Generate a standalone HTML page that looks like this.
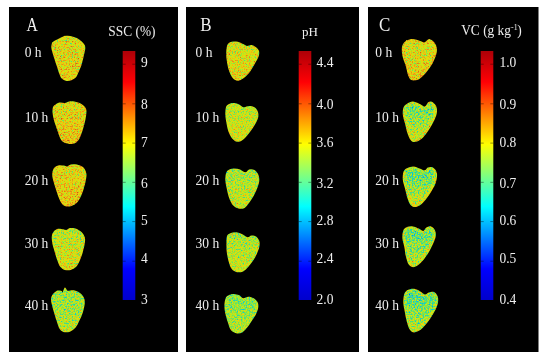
<!DOCTYPE html><html><head><meta charset="utf-8"><style>
html,body{margin:0;padding:0;background:#fff;width:550px;height:362px;overflow:hidden}
svg{display:block}
text{font-family:"Liberation Serif","Times New Roman",serif;fill:#eeeeee}
</style></head><body>
<svg width="550" height="362" viewBox="0 0 550 362"><defs>
<linearGradient id="jet" x1="0" y1="0" x2="0" y2="1"><stop offset="0.000" stop-color="rgb(173,0,7)"/><stop offset="0.025" stop-color="rgb(189,0,7)"/><stop offset="0.050" stop-color="rgb(206,0,6)"/><stop offset="0.075" stop-color="rgb(222,0,6)"/><stop offset="0.100" stop-color="rgb(238,0,5)"/><stop offset="0.125" stop-color="rgb(255,0,5)"/><stop offset="0.150" stop-color="rgb(255,25,4)"/><stop offset="0.175" stop-color="rgb(255,51,4)"/><stop offset="0.200" stop-color="rgb(255,76,3)"/><stop offset="0.225" stop-color="rgb(255,101,3)"/><stop offset="0.250" stop-color="rgb(255,127,2)"/><stop offset="0.275" stop-color="rgb(255,153,2)"/><stop offset="0.300" stop-color="rgb(255,178,1)"/><stop offset="0.325" stop-color="rgb(255,203,1)"/><stop offset="0.350" stop-color="rgb(255,229,0)"/><stop offset="0.375" stop-color="rgb(255,255,0)"/><stop offset="0.400" stop-color="rgb(229,255,25)"/><stop offset="0.425" stop-color="rgb(203,255,51)"/><stop offset="0.450" stop-color="rgb(178,255,76)"/><stop offset="0.475" stop-color="rgb(153,255,101)"/><stop offset="0.500" stop-color="rgb(127,255,127)"/><stop offset="0.525" stop-color="rgb(101,255,153)"/><stop offset="0.550" stop-color="rgb(76,255,178)"/><stop offset="0.575" stop-color="rgb(51,255,203)"/><stop offset="0.600" stop-color="rgb(25,255,229)"/><stop offset="0.625" stop-color="rgb(0,255,255)"/><stop offset="0.650" stop-color="rgb(0,229,255)"/><stop offset="0.675" stop-color="rgb(0,203,255)"/><stop offset="0.700" stop-color="rgb(0,178,255)"/><stop offset="0.725" stop-color="rgb(0,153,255)"/><stop offset="0.750" stop-color="rgb(0,127,255)"/><stop offset="0.775" stop-color="rgb(0,101,255)"/><stop offset="0.800" stop-color="rgb(0,76,255)"/><stop offset="0.825" stop-color="rgb(0,51,255)"/><stop offset="0.850" stop-color="rgb(0,25,255)"/><stop offset="0.875" stop-color="rgb(0,0,255)"/><stop offset="0.900" stop-color="rgb(0,0,244)"/><stop offset="0.925" stop-color="rgb(0,0,234)"/><stop offset="0.950" stop-color="rgb(0,0,224)"/><stop offset="0.975" stop-color="rgb(0,0,214)"/><stop offset="1.000" stop-color="rgb(0,0,204)"/></linearGradient>
<filter id="tA0" x="0" y="0" width="1" height="1" color-interpolation-filters="sRGB">
<feTurbulence type="fractalNoise" baseFrequency="0.65" numOctaves="2" seed="1"/>
<feColorMatrix type="matrix" values="1 0 0 0 0 1 0 0 0 0 1 0 0 0 0 0 0 0 0 1"/>
<feComposite in2="SourceGraphic" operator="arithmetic" k1="0" k2="0.678" k3="1" k4="-0.339"/>
<feComponentTransfer><feFuncR type="table" tableValues="0.000 0.000 0.000 0.000 0.000 0.000 0.000 0.000 0.000 0.000 0.000 0.000 0.011 0.025 0.039 0.095 0.151 0.216 0.314 0.412 0.497 0.578 0.657 0.730 0.804 0.853 0.902 0.926 0.935 0.939 0.929 0.920 0.910 0.877 0.844 0.811 0.765 0.716 0.667 0.667 0.667"/><feFuncG type="table" tableValues="0.314 0.314 0.314 0.314 0.314 0.314 0.314 0.314 0.314 0.400 0.485 0.571 0.644 0.714 0.784 0.805 0.826 0.847 0.869 0.890 0.899 0.906 0.908 0.905 0.902 0.877 0.853 0.804 0.739 0.676 0.627 0.578 0.529 0.474 0.419 0.364 0.308 0.252 0.196 0.196 0.196"/><feFuncB type="table" tableValues="0.902 0.902 0.902 0.902 0.902 0.902 0.902 0.902 0.902 0.908 0.914 0.920 0.905 0.884 0.863 0.779 0.695 0.605 0.490 0.376 0.301 0.235 0.176 0.127 0.078 0.062 0.046 0.049 0.065 0.080 0.086 0.092 0.098 0.092 0.086 0.080 0.067 0.053 0.039 0.039 0.039"/></feComponentTransfer>
<feGaussianBlur stdDeviation="0.4"/>
</filter>
<mask id="cA0" maskUnits="userSpaceOnUse" x="45.4" y="29.8" width="45.9" height="57.1"><path d="M53.4,41.4 C55.3,40.2 60.8,37.3 63.2,36.4 C65.6,35.5 66.2,35.7 67.8,35.8 C69.4,35.9 71.2,36.2 73.1,36.8 C75.0,37.4 77.4,38.2 79.2,39.4 C81.0,40.5 82.8,42.3 83.8,43.7 C84.8,45.1 85.3,45.9 85.3,47.9 C85.3,49.9 84.4,52.9 83.8,55.8 C83.2,58.6 82.4,62.2 81.5,65.0 C80.6,67.8 79.3,70.6 78.4,72.6 C77.5,74.6 77.3,75.8 76.2,77.1 C75.1,78.4 73.2,79.6 71.6,80.2 C69.9,80.8 67.9,81.2 66.3,80.9 C64.7,80.6 62.9,79.7 61.7,78.6 C60.6,77.5 60.3,76.4 59.4,74.1 C58.5,71.8 57.4,68.0 56.4,65.0 C55.4,62.0 54.2,58.6 53.4,55.8 C52.6,53.0 51.7,50.2 51.4,48.2 C51.1,46.2 51.5,44.8 51.8,43.7 C52.1,42.6 51.5,42.6 53.4,41.4Z" fill="#fff" filter="url(#rough)"/></mask>
<linearGradient id="gA0" x1="0" y1="0" x2="0" y2="1"><stop offset="0.1" stop-color="rgb(161,161,161)"/><stop offset="0.9" stop-color="rgb(171,171,171)"/></linearGradient>
<filter id="tA1" x="0" y="0" width="1" height="1" color-interpolation-filters="sRGB">
<feTurbulence type="fractalNoise" baseFrequency="0.65" numOctaves="2" seed="2"/>
<feColorMatrix type="matrix" values="1 0 0 0 0 1 0 0 0 0 1 0 0 0 0 0 0 0 0 1"/>
<feComposite in2="SourceGraphic" operator="arithmetic" k1="0" k2="0.678" k3="1" k4="-0.339"/>
<feComponentTransfer><feFuncR type="table" tableValues="0.000 0.000 0.000 0.000 0.000 0.000 0.000 0.000 0.000 0.000 0.000 0.000 0.011 0.025 0.039 0.095 0.151 0.216 0.314 0.412 0.497 0.578 0.657 0.730 0.804 0.853 0.902 0.926 0.935 0.939 0.929 0.920 0.910 0.877 0.844 0.811 0.765 0.716 0.667 0.667 0.667"/><feFuncG type="table" tableValues="0.314 0.314 0.314 0.314 0.314 0.314 0.314 0.314 0.314 0.400 0.485 0.571 0.644 0.714 0.784 0.805 0.826 0.847 0.869 0.890 0.899 0.906 0.908 0.905 0.902 0.877 0.853 0.804 0.739 0.676 0.627 0.578 0.529 0.474 0.419 0.364 0.308 0.252 0.196 0.196 0.196"/><feFuncB type="table" tableValues="0.902 0.902 0.902 0.902 0.902 0.902 0.902 0.902 0.902 0.908 0.914 0.920 0.905 0.884 0.863 0.779 0.695 0.605 0.490 0.376 0.301 0.235 0.176 0.127 0.078 0.062 0.046 0.049 0.065 0.080 0.086 0.092 0.098 0.092 0.086 0.080 0.067 0.053 0.039 0.039 0.039"/></feComponentTransfer>
<feGaussianBlur stdDeviation="0.4"/>
</filter>
<mask id="cA1" maskUnits="userSpaceOnUse" x="46.6" y="95.4" width="45.7" height="54.5"><path d="M54.1,105.6 C55.2,104.6 57.6,103.0 59.4,102.6 C61.2,102.1 63.1,103.1 64.8,102.9 C66.5,102.7 67.5,101.6 69.3,101.4 C71.1,101.2 73.2,101.3 75.4,101.8 C77.6,102.3 80.4,103.2 82.2,104.4 C84.0,105.6 85.3,107.1 86.0,108.7 C86.7,110.3 86.5,111.7 86.3,114.0 C86.1,116.3 85.5,119.5 84.8,122.4 C84.1,125.3 83.1,128.7 82.2,131.5 C81.3,134.3 80.3,137.2 79.2,139.1 C78.1,141.0 77.1,142.1 75.4,142.9 C73.8,143.7 71.3,144.0 69.3,143.9 C67.3,143.8 64.7,143.0 63.2,142.1 C61.7,141.2 61.2,140.3 60.2,138.3 C59.2,136.3 58.2,132.9 57.2,130.0 C56.2,127.1 54.9,123.6 54.1,120.8 C53.3,118.0 52.9,115.2 52.6,113.2 C52.4,111.2 52.4,110.0 52.6,108.7 C52.9,107.4 53.0,106.6 54.1,105.6Z" fill="#fff" filter="url(#rough)"/></mask>
<linearGradient id="gA1" x1="0" y1="0" x2="0" y2="1"><stop offset="0.1" stop-color="rgb(161,161,161)"/><stop offset="0.9" stop-color="rgb(178,178,178)"/></linearGradient>
<filter id="tA2" x="0" y="0" width="1" height="1" color-interpolation-filters="sRGB">
<feTurbulence type="fractalNoise" baseFrequency="0.65" numOctaves="2" seed="3"/>
<feColorMatrix type="matrix" values="1 0 0 0 0 1 0 0 0 0 1 0 0 0 0 0 0 0 0 1"/>
<feComposite in2="SourceGraphic" operator="arithmetic" k1="0" k2="0.636" k3="1" k4="-0.318"/>
<feComponentTransfer><feFuncR type="table" tableValues="0.000 0.000 0.000 0.000 0.000 0.000 0.000 0.000 0.000 0.000 0.000 0.000 0.011 0.025 0.039 0.095 0.151 0.216 0.314 0.412 0.497 0.578 0.657 0.730 0.804 0.853 0.902 0.926 0.935 0.939 0.929 0.920 0.910 0.877 0.844 0.811 0.765 0.716 0.667 0.667 0.667"/><feFuncG type="table" tableValues="0.314 0.314 0.314 0.314 0.314 0.314 0.314 0.314 0.314 0.400 0.485 0.571 0.644 0.714 0.784 0.805 0.826 0.847 0.869 0.890 0.899 0.906 0.908 0.905 0.902 0.877 0.853 0.804 0.739 0.676 0.627 0.578 0.529 0.474 0.419 0.364 0.308 0.252 0.196 0.196 0.196"/><feFuncB type="table" tableValues="0.902 0.902 0.902 0.902 0.902 0.902 0.902 0.902 0.902 0.908 0.914 0.920 0.905 0.884 0.863 0.779 0.695 0.605 0.490 0.376 0.301 0.235 0.176 0.127 0.078 0.062 0.046 0.049 0.065 0.080 0.086 0.092 0.098 0.092 0.086 0.080 0.067 0.053 0.039 0.039 0.039"/></feComponentTransfer>
<feGaussianBlur stdDeviation="0.4"/>
</filter>
<mask id="cA2" maskUnits="userSpaceOnUse" x="46.3" y="158.4" width="46.0" height="53.9"><path d="M54.1,167.9 C55.2,166.6 57.1,165.7 58.7,165.3 C60.4,164.9 62.6,165.4 64.0,165.6 C65.4,165.8 65.9,166.6 67.0,166.4 C68.1,166.2 69.1,164.7 70.8,164.4 C72.5,164.1 74.9,164.0 76.9,164.4 C78.9,164.8 81.4,165.6 83.0,167.1 C84.6,168.6 85.8,171.2 86.3,173.2 C86.8,175.2 86.4,176.8 86.0,179.3 C85.6,181.8 84.7,185.5 83.8,188.4 C82.9,191.3 81.8,194.4 80.7,196.8 C79.6,199.2 78.4,201.3 76.9,202.8 C75.4,204.3 73.5,205.3 71.6,205.9 C69.7,206.5 67.2,206.7 65.5,206.3 C63.9,205.9 62.8,205.1 61.7,203.6 C60.6,202.1 59.7,200.0 58.7,197.5 C57.7,195.0 56.6,191.4 55.6,188.4 C54.6,185.4 53.5,181.8 52.9,179.3 C52.3,176.8 52.1,175.1 52.3,173.2 C52.5,171.3 53.0,169.2 54.1,167.9Z" fill="#fff" filter="url(#rough)"/></mask>
<linearGradient id="gA2" x1="0" y1="0" x2="0" y2="1"><stop offset="0.1" stop-color="rgb(163,163,163)"/><stop offset="0.9" stop-color="rgb(176,176,176)"/></linearGradient>
<filter id="tA3" x="0" y="0" width="1" height="1" color-interpolation-filters="sRGB">
<feTurbulence type="fractalNoise" baseFrequency="0.65" numOctaves="2" seed="4"/>
<feColorMatrix type="matrix" values="1 0 0 0 0 1 0 0 0 0 1 0 0 0 0 0 0 0 0 1"/>
<feComposite in2="SourceGraphic" operator="arithmetic" k1="0" k2="0.636" k3="1" k4="-0.318"/>
<feComponentTransfer><feFuncR type="table" tableValues="0.000 0.000 0.000 0.000 0.000 0.000 0.000 0.000 0.000 0.000 0.000 0.000 0.011 0.025 0.039 0.095 0.151 0.216 0.314 0.412 0.497 0.578 0.657 0.730 0.804 0.853 0.902 0.926 0.935 0.939 0.929 0.920 0.910 0.877 0.844 0.811 0.765 0.716 0.667 0.667 0.667"/><feFuncG type="table" tableValues="0.314 0.314 0.314 0.314 0.314 0.314 0.314 0.314 0.314 0.400 0.485 0.571 0.644 0.714 0.784 0.805 0.826 0.847 0.869 0.890 0.899 0.906 0.908 0.905 0.902 0.877 0.853 0.804 0.739 0.676 0.627 0.578 0.529 0.474 0.419 0.364 0.308 0.252 0.196 0.196 0.196"/><feFuncB type="table" tableValues="0.902 0.902 0.902 0.902 0.902 0.902 0.902 0.902 0.902 0.908 0.914 0.920 0.905 0.884 0.863 0.779 0.695 0.605 0.490 0.376 0.301 0.235 0.176 0.127 0.078 0.062 0.046 0.049 0.065 0.080 0.086 0.092 0.098 0.092 0.086 0.080 0.067 0.053 0.039 0.039 0.039"/></feComponentTransfer>
<feGaussianBlur stdDeviation="0.4"/>
</filter>
<mask id="cA3" maskUnits="userSpaceOnUse" x="45.8" y="222.1" width="45.0" height="53.8"><path d="M53.4,231.9 C54.4,230.6 56.3,229.2 57.9,228.8 C59.5,228.4 61.8,229.1 63.2,229.3 C64.6,229.5 65.2,230.1 66.3,229.9 C67.4,229.7 68.6,228.3 70.1,228.1 C71.6,227.8 73.5,227.8 75.4,228.4 C77.3,229.0 79.9,230.4 81.5,231.9 C83.1,233.4 84.2,235.3 84.8,237.2 C85.3,239.1 85.1,240.8 84.8,243.3 C84.5,245.8 83.5,249.5 82.7,252.4 C81.9,255.3 80.8,258.4 79.7,260.8 C78.6,263.2 77.7,265.3 76.2,266.8 C74.7,268.3 72.7,269.4 70.8,269.9 C68.9,270.4 66.6,270.4 64.8,269.9 C63.0,269.4 61.5,268.4 60.2,266.8 C58.9,265.2 58.2,262.6 57.2,260.0 C56.2,257.4 55.2,253.7 54.4,250.9 C53.6,248.1 52.7,245.7 52.3,243.3 C51.9,240.9 51.6,238.3 51.8,236.4 C52.0,234.5 52.4,233.2 53.4,231.9Z" fill="#fff" filter="url(#rough)"/></mask>
<linearGradient id="gA3" x1="0" y1="0" x2="0" y2="1"><stop offset="0.1" stop-color="rgb(145,145,145)"/><stop offset="0.9" stop-color="rgb(163,163,163)"/></linearGradient>
<filter id="tA4" x="0" y="0" width="1" height="1" color-interpolation-filters="sRGB">
<feTurbulence type="fractalNoise" baseFrequency="0.65" numOctaves="2" seed="5"/>
<feColorMatrix type="matrix" values="1 0 0 0 0 1 0 0 0 0 1 0 0 0 0 0 0 0 0 1"/>
<feComposite in2="SourceGraphic" operator="arithmetic" k1="0" k2="0.636" k3="1" k4="-0.318"/>
<feComponentTransfer><feFuncR type="table" tableValues="0.000 0.000 0.000 0.000 0.000 0.000 0.000 0.000 0.000 0.000 0.000 0.000 0.011 0.025 0.039 0.095 0.151 0.216 0.314 0.412 0.497 0.578 0.657 0.730 0.804 0.853 0.902 0.926 0.935 0.939 0.929 0.920 0.910 0.877 0.844 0.811 0.765 0.716 0.667 0.667 0.667"/><feFuncG type="table" tableValues="0.314 0.314 0.314 0.314 0.314 0.314 0.314 0.314 0.314 0.400 0.485 0.571 0.644 0.714 0.784 0.805 0.826 0.847 0.869 0.890 0.899 0.906 0.908 0.905 0.902 0.877 0.853 0.804 0.739 0.676 0.627 0.578 0.529 0.474 0.419 0.364 0.308 0.252 0.196 0.196 0.196"/><feFuncB type="table" tableValues="0.902 0.902 0.902 0.902 0.902 0.902 0.902 0.902 0.902 0.908 0.914 0.920 0.905 0.884 0.863 0.779 0.695 0.605 0.490 0.376 0.301 0.235 0.176 0.127 0.078 0.062 0.046 0.049 0.065 0.080 0.086 0.092 0.098 0.092 0.086 0.080 0.067 0.053 0.039 0.039 0.039"/></feComponentTransfer>
<feGaussianBlur stdDeviation="0.4"/>
</filter>
<mask id="cA4" maskUnits="userSpaceOnUse" x="45.1" y="281.6" width="45.7" height="56.3"><path d="M52.6,294.4 C53.5,293.2 55.2,291.5 56.4,290.9 C57.6,290.2 58.9,290.5 59.8,290.5 C60.7,290.5 61.1,290.7 61.6,291.0 C62.1,291.3 62.3,292.6 62.6,292.4 C62.9,292.2 63.1,290.8 63.5,290.0 C63.9,289.2 64.4,287.8 64.9,287.6 C65.4,287.4 65.8,288.5 66.3,289.0 C66.8,289.5 66.5,290.5 67.8,290.7 C69.1,290.9 71.9,289.9 73.9,290.3 C75.9,290.7 78.3,291.7 80.0,292.9 C81.7,294.1 83.0,295.8 83.8,297.4 C84.6,299.0 84.9,300.4 84.8,302.8 C84.7,305.2 83.9,308.9 83.0,311.9 C82.1,314.9 80.5,318.4 79.2,321.0 C77.9,323.6 77.1,326.0 75.4,327.8 C73.8,329.6 71.3,331.2 69.3,331.9 C67.3,332.6 64.9,332.4 63.2,331.9 C61.6,331.3 60.5,330.6 59.4,328.6 C58.3,326.7 57.4,323.2 56.4,320.2 C55.4,317.2 54.2,313.3 53.4,310.4 C52.6,307.5 51.8,304.8 51.4,302.8 C51.0,300.8 50.9,299.6 51.1,298.2 C51.3,296.8 51.7,295.6 52.6,294.4Z" fill="#fff" filter="url(#rough)"/></mask>
<linearGradient id="gA4" x1="0" y1="0" x2="0" y2="1"><stop offset="0.1" stop-color="rgb(133,133,133)"/><stop offset="0.9" stop-color="rgb(148,148,148)"/></linearGradient>
<filter id="tB0" x="0" y="0" width="1" height="1" color-interpolation-filters="sRGB">
<feTurbulence type="fractalNoise" baseFrequency="0.65" numOctaves="2" seed="6"/>
<feColorMatrix type="matrix" values="1 0 0 0 0 1 0 0 0 0 1 0 0 0 0 0 0 0 0 1"/>
<feComposite in2="SourceGraphic" operator="arithmetic" k1="0" k2="0.636" k3="1" k4="-0.318"/>
<feComponentTransfer><feFuncR type="table" tableValues="0.000 0.000 0.000 0.000 0.000 0.000 0.000 0.000 0.000 0.000 0.000 0.000 0.011 0.025 0.039 0.095 0.151 0.216 0.314 0.412 0.497 0.578 0.657 0.730 0.804 0.853 0.902 0.926 0.935 0.939 0.929 0.920 0.910 0.877 0.844 0.811 0.765 0.716 0.667 0.667 0.667"/><feFuncG type="table" tableValues="0.314 0.314 0.314 0.314 0.314 0.314 0.314 0.314 0.314 0.400 0.485 0.571 0.644 0.714 0.784 0.805 0.826 0.847 0.869 0.890 0.899 0.906 0.908 0.905 0.902 0.877 0.853 0.804 0.739 0.676 0.627 0.578 0.529 0.474 0.419 0.364 0.308 0.252 0.196 0.196 0.196"/><feFuncB type="table" tableValues="0.902 0.902 0.902 0.902 0.902 0.902 0.902 0.902 0.902 0.908 0.914 0.920 0.905 0.884 0.863 0.779 0.695 0.605 0.490 0.376 0.301 0.235 0.176 0.127 0.078 0.062 0.046 0.049 0.065 0.080 0.086 0.092 0.098 0.092 0.086 0.080 0.067 0.053 0.039 0.039 0.039"/></feComponentTransfer>
<feGaussianBlur stdDeviation="0.4"/>
</filter>
<mask id="cB0" maskUnits="userSpaceOnUse" x="220.4" y="35.8" width="44.6" height="50.8"><path d="M227.9,44.1 C228.8,42.8 230.0,42.2 231.7,41.8 C233.3,41.4 235.9,41.4 237.8,41.8 C239.7,42.2 241.6,43.4 243.1,44.1 C244.6,44.8 245.5,45.8 246.9,45.9 C248.3,46.0 249.9,44.7 251.4,44.9 C252.9,45.1 254.7,46.2 256.0,47.2 C257.3,48.2 258.6,49.5 259.0,51.0 C259.4,52.5 259.3,54.3 258.7,56.3 C258.1,58.3 256.5,60.7 255.2,63.1 C253.9,65.5 252.3,68.4 250.7,70.7 C249.1,73.0 247.3,75.2 245.4,76.8 C243.5,78.4 241.1,80.1 239.3,80.6 C237.5,81.1 236.1,80.7 234.7,79.8 C233.3,78.9 232.0,77.4 230.9,75.3 C229.8,73.2 228.7,69.8 227.9,66.9 C227.2,64.0 226.7,60.7 226.4,57.8 C226.2,54.9 226.2,51.7 226.4,49.4 C226.7,47.1 227.0,45.4 227.9,44.1Z" fill="#fff" filter="url(#rough)"/></mask>
<linearGradient id="gB0" x1="0" y1="0" x2="0" y2="1"><stop offset="0.1" stop-color="rgb(156,156,156)"/><stop offset="0.9" stop-color="rgb(168,168,168)"/></linearGradient>
<filter id="tB1" x="0" y="0" width="1" height="1" color-interpolation-filters="sRGB">
<feTurbulence type="fractalNoise" baseFrequency="0.65" numOctaves="2" seed="7"/>
<feColorMatrix type="matrix" values="1 0 0 0 0 1 0 0 0 0 1 0 0 0 0 0 0 0 0 1"/>
<feComposite in2="SourceGraphic" operator="arithmetic" k1="0" k2="0.551" k3="1" k4="-0.275"/>
<feComponentTransfer><feFuncR type="table" tableValues="0.000 0.000 0.000 0.000 0.000 0.000 0.000 0.000 0.000 0.000 0.000 0.000 0.011 0.025 0.039 0.095 0.151 0.216 0.314 0.412 0.497 0.578 0.657 0.730 0.804 0.853 0.902 0.926 0.935 0.939 0.929 0.920 0.910 0.877 0.844 0.811 0.765 0.716 0.667 0.667 0.667"/><feFuncG type="table" tableValues="0.314 0.314 0.314 0.314 0.314 0.314 0.314 0.314 0.314 0.400 0.485 0.571 0.644 0.714 0.784 0.805 0.826 0.847 0.869 0.890 0.899 0.906 0.908 0.905 0.902 0.877 0.853 0.804 0.739 0.676 0.627 0.578 0.529 0.474 0.419 0.364 0.308 0.252 0.196 0.196 0.196"/><feFuncB type="table" tableValues="0.902 0.902 0.902 0.902 0.902 0.902 0.902 0.902 0.902 0.908 0.914 0.920 0.905 0.884 0.863 0.779 0.695 0.605 0.490 0.376 0.301 0.235 0.176 0.127 0.078 0.062 0.046 0.049 0.065 0.080 0.086 0.092 0.098 0.092 0.086 0.080 0.067 0.053 0.039 0.039 0.039"/></feComponentTransfer>
<feGaussianBlur stdDeviation="0.4"/>
</filter>
<mask id="cB1" maskUnits="userSpaceOnUse" x="219.3" y="97.1" width="45.0" height="50.7"><path d="M226.4,106.1 C227.2,104.4 228.8,103.9 230.2,103.4 C231.6,102.9 233.1,102.8 234.7,103.1 C236.3,103.3 238.5,104.2 240.0,104.9 C241.5,105.6 242.3,107.1 243.8,107.3 C245.3,107.5 247.4,106.1 249.2,106.1 C251.0,106.1 253.1,106.4 254.5,107.3 C255.9,108.2 257.2,109.8 257.8,111.4 C258.4,113.0 258.6,114.9 258.3,116.8 C258.0,118.7 257.0,120.8 256.0,122.8 C255.0,124.8 253.6,126.9 252.2,128.9 C250.8,130.9 249.2,133.1 247.6,135.0 C245.9,136.9 244.1,139.2 242.3,140.3 C240.5,141.4 238.7,142.1 237.0,141.8 C235.3,141.6 233.8,140.4 232.4,138.8 C231.0,137.2 229.6,134.7 228.6,132.0 C227.6,129.3 226.9,125.8 226.4,122.8 C225.9,119.8 225.3,116.5 225.3,113.7 C225.3,110.9 225.6,107.8 226.4,106.1Z" fill="#fff" filter="url(#rough)"/></mask>
<linearGradient id="gB1" x1="0" y1="0" x2="0" y2="1"><stop offset="0.1" stop-color="rgb(147,147,147)"/><stop offset="0.9" stop-color="rgb(158,158,158)"/></linearGradient>
<filter id="tB2" x="0" y="0" width="1" height="1" color-interpolation-filters="sRGB">
<feTurbulence type="fractalNoise" baseFrequency="0.65" numOctaves="2" seed="8"/>
<feColorMatrix type="matrix" values="1 0 0 0 0 1 0 0 0 0 1 0 0 0 0 0 0 0 0 1"/>
<feComposite in2="SourceGraphic" operator="arithmetic" k1="0" k2="0.636" k3="1" k4="-0.318"/>
<feComponentTransfer><feFuncR type="table" tableValues="0.000 0.000 0.000 0.000 0.000 0.000 0.000 0.000 0.000 0.000 0.000 0.000 0.011 0.025 0.039 0.095 0.151 0.216 0.314 0.412 0.497 0.578 0.657 0.730 0.804 0.853 0.902 0.926 0.935 0.939 0.929 0.920 0.910 0.877 0.844 0.811 0.765 0.716 0.667 0.667 0.667"/><feFuncG type="table" tableValues="0.314 0.314 0.314 0.314 0.314 0.314 0.314 0.314 0.314 0.400 0.485 0.571 0.644 0.714 0.784 0.805 0.826 0.847 0.869 0.890 0.899 0.906 0.908 0.905 0.902 0.877 0.853 0.804 0.739 0.676 0.627 0.578 0.529 0.474 0.419 0.364 0.308 0.252 0.196 0.196 0.196"/><feFuncB type="table" tableValues="0.902 0.902 0.902 0.902 0.902 0.902 0.902 0.902 0.902 0.908 0.914 0.920 0.905 0.884 0.863 0.779 0.695 0.605 0.490 0.376 0.301 0.235 0.176 0.127 0.078 0.062 0.046 0.049 0.065 0.080 0.086 0.092 0.098 0.092 0.086 0.080 0.067 0.053 0.039 0.039 0.039"/></feComponentTransfer>
<feGaussianBlur stdDeviation="0.4"/>
</filter>
<mask id="cB2" maskUnits="userSpaceOnUse" x="219.3" y="162.4" width="46.0" height="52.2"><path d="M226.4,172.2 C227.1,170.5 228.0,170.0 229.4,169.4 C230.8,168.8 232.9,168.4 234.7,168.4 C236.5,168.4 238.2,168.8 240.0,169.4 C241.8,170.0 243.9,172.2 245.4,172.2 C246.9,172.2 247.7,169.8 249.2,169.4 C250.7,169.0 253.0,169.1 254.5,169.9 C256.0,170.7 257.5,172.6 258.3,174.4 C259.1,176.2 259.4,178.3 259.3,180.5 C259.2,182.7 258.3,185.1 257.5,187.4 C256.7,189.7 255.8,191.8 254.5,194.2 C253.2,196.6 251.6,199.5 249.9,201.8 C248.2,204.1 246.5,206.8 244.6,207.9 C242.7,209.0 240.4,209.0 238.5,208.6 C236.6,208.2 234.7,207.2 233.2,205.6 C231.7,204.0 230.5,201.6 229.4,198.8 C228.3,196.0 227.5,192.1 226.8,188.9 C226.1,185.7 225.4,182.6 225.3,179.8 C225.2,177.0 225.7,173.9 226.4,172.2Z" fill="#fff" filter="url(#rough)"/></mask>
<linearGradient id="gB2" x1="0" y1="0" x2="0" y2="1"><stop offset="0.1" stop-color="rgb(140,140,140)"/><stop offset="0.9" stop-color="rgb(152,152,152)"/></linearGradient>
<filter id="tB3" x="0" y="0" width="1" height="1" color-interpolation-filters="sRGB">
<feTurbulence type="fractalNoise" baseFrequency="0.65" numOctaves="2" seed="9"/>
<feColorMatrix type="matrix" values="1 0 0 0 0 1 0 0 0 0 1 0 0 0 0 0 0 0 0 1"/>
<feComposite in2="SourceGraphic" operator="arithmetic" k1="0" k2="0.636" k3="1" k4="-0.318"/>
<feComponentTransfer><feFuncR type="table" tableValues="0.000 0.000 0.000 0.000 0.000 0.000 0.000 0.000 0.000 0.000 0.000 0.000 0.011 0.025 0.039 0.095 0.151 0.216 0.314 0.412 0.497 0.578 0.657 0.730 0.804 0.853 0.902 0.926 0.935 0.939 0.929 0.920 0.910 0.877 0.844 0.811 0.765 0.716 0.667 0.667 0.667"/><feFuncG type="table" tableValues="0.314 0.314 0.314 0.314 0.314 0.314 0.314 0.314 0.314 0.400 0.485 0.571 0.644 0.714 0.784 0.805 0.826 0.847 0.869 0.890 0.899 0.906 0.908 0.905 0.902 0.877 0.853 0.804 0.739 0.676 0.627 0.578 0.529 0.474 0.419 0.364 0.308 0.252 0.196 0.196 0.196"/><feFuncB type="table" tableValues="0.902 0.902 0.902 0.902 0.902 0.902 0.902 0.902 0.902 0.908 0.914 0.920 0.905 0.884 0.863 0.779 0.695 0.605 0.490 0.376 0.301 0.235 0.176 0.127 0.078 0.062 0.046 0.049 0.065 0.080 0.086 0.092 0.098 0.092 0.086 0.080 0.067 0.053 0.039 0.039 0.039"/></feComponentTransfer>
<feGaussianBlur stdDeviation="0.4"/>
</filter>
<mask id="cB3" maskUnits="userSpaceOnUse" x="220.4" y="226.3" width="44.9" height="51.9"><path d="M227.1,235.7 C227.8,234.0 229.4,233.5 230.9,232.9 C232.4,232.3 234.3,232.1 236.2,232.3 C238.1,232.5 240.4,233.4 242.3,234.2 C244.2,235.0 246.1,237.0 247.6,237.2 C249.1,237.4 250.0,235.5 251.4,235.4 C252.8,235.3 254.7,235.5 256.0,236.4 C257.3,237.3 258.8,239.2 259.3,241.0 C259.9,242.8 259.7,244.9 259.3,247.1 C258.9,249.2 257.9,251.6 256.8,253.9 C255.8,256.2 254.4,258.7 253.0,260.8 C251.6,262.9 250.1,265.0 248.4,266.8 C246.8,268.6 245.0,270.5 243.1,271.4 C241.2,272.3 238.9,272.6 237.0,272.2 C235.1,271.8 233.1,270.9 231.7,269.1 C230.3,267.3 229.4,264.3 228.6,261.5 C227.8,258.7 227.2,255.4 226.8,252.4 C226.4,249.4 226.4,246.1 226.4,243.3 C226.4,240.5 226.3,237.4 227.1,235.7Z" fill="#fff" filter="url(#rough)"/></mask>
<linearGradient id="gB3" x1="0" y1="0" x2="0" y2="1"><stop offset="0.1" stop-color="rgb(140,140,140)"/><stop offset="0.9" stop-color="rgb(153,153,153)"/></linearGradient>
<filter id="tB4" x="0" y="0" width="1" height="1" color-interpolation-filters="sRGB">
<feTurbulence type="fractalNoise" baseFrequency="0.65" numOctaves="2" seed="10"/>
<feColorMatrix type="matrix" values="1 0 0 0 0 1 0 0 0 0 1 0 0 0 0 0 0 0 0 1"/>
<feComposite in2="SourceGraphic" operator="arithmetic" k1="0" k2="0.593" k3="1" k4="-0.297"/>
<feComponentTransfer><feFuncR type="table" tableValues="0.000 0.000 0.000 0.000 0.000 0.000 0.000 0.000 0.000 0.000 0.000 0.000 0.011 0.025 0.039 0.095 0.151 0.216 0.314 0.412 0.497 0.578 0.657 0.730 0.804 0.853 0.902 0.926 0.935 0.939 0.929 0.920 0.910 0.877 0.844 0.811 0.765 0.716 0.667 0.667 0.667"/><feFuncG type="table" tableValues="0.314 0.314 0.314 0.314 0.314 0.314 0.314 0.314 0.314 0.400 0.485 0.571 0.644 0.714 0.784 0.805 0.826 0.847 0.869 0.890 0.899 0.906 0.908 0.905 0.902 0.877 0.853 0.804 0.739 0.676 0.627 0.578 0.529 0.474 0.419 0.364 0.308 0.252 0.196 0.196 0.196"/><feFuncB type="table" tableValues="0.902 0.902 0.902 0.902 0.902 0.902 0.902 0.902 0.902 0.908 0.914 0.920 0.905 0.884 0.863 0.779 0.695 0.605 0.490 0.376 0.301 0.235 0.176 0.127 0.078 0.062 0.046 0.049 0.065 0.080 0.086 0.092 0.098 0.092 0.086 0.080 0.067 0.053 0.039 0.039 0.039"/></feComponentTransfer>
<feGaussianBlur stdDeviation="0.4"/>
</filter>
<mask id="cB4" maskUnits="userSpaceOnUse" x="218.4" y="287.9" width="45.9" height="51.3"><path d="M225.6,298.2 C226.3,296.4 227.3,295.9 228.6,295.2 C229.9,294.5 231.4,293.9 233.2,293.9 C235.0,293.9 237.7,294.5 239.3,295.2 C241.0,295.9 241.6,297.9 243.1,298.2 C244.6,298.4 246.6,296.7 248.4,296.7 C250.2,296.7 252.2,297.3 253.7,298.2 C255.2,299.1 256.7,300.5 257.5,302.0 C258.3,303.5 258.6,305.3 258.3,307.3 C258.1,309.3 257.0,312.1 256.0,314.2 C255.0,316.3 253.6,318.0 252.2,320.2 C250.8,322.4 249.2,325.1 247.6,327.1 C245.9,329.1 244.2,331.4 242.3,332.4 C240.4,333.4 238.1,333.6 236.2,333.2 C234.3,332.8 232.3,331.9 230.9,330.1 C229.5,328.3 228.8,325.3 227.9,322.5 C227.0,319.7 225.9,316.2 225.3,313.4 C224.7,310.6 224.4,308.3 224.4,305.8 C224.4,303.3 224.9,300.0 225.6,298.2Z" fill="#fff" filter="url(#rough)"/></mask>
<linearGradient id="gB4" x1="0" y1="0" x2="0" y2="1"><stop offset="0.1" stop-color="rgb(128,128,128)"/><stop offset="0.9" stop-color="rgb(145,145,145)"/></linearGradient>
<filter id="tC0" x="0" y="0" width="1" height="1" color-interpolation-filters="sRGB">
<feTurbulence type="fractalNoise" baseFrequency="0.65" numOctaves="2" seed="11"/>
<feColorMatrix type="matrix" values="1 0 0 0 0 1 0 0 0 0 1 0 0 0 0 0 0 0 0 1"/>
<feComposite in2="SourceGraphic" operator="arithmetic" k1="0" k2="0.678" k3="1" k4="-0.339"/>
<feComponentTransfer><feFuncR type="table" tableValues="0.000 0.000 0.000 0.000 0.000 0.000 0.000 0.000 0.000 0.000 0.000 0.000 0.011 0.025 0.039 0.095 0.151 0.216 0.314 0.412 0.497 0.578 0.657 0.730 0.804 0.853 0.902 0.926 0.935 0.939 0.929 0.920 0.910 0.877 0.844 0.811 0.765 0.716 0.667 0.667 0.667"/><feFuncG type="table" tableValues="0.314 0.314 0.314 0.314 0.314 0.314 0.314 0.314 0.314 0.400 0.485 0.571 0.644 0.714 0.784 0.805 0.826 0.847 0.869 0.890 0.899 0.906 0.908 0.905 0.902 0.877 0.853 0.804 0.739 0.676 0.627 0.578 0.529 0.474 0.419 0.364 0.308 0.252 0.196 0.196 0.196"/><feFuncB type="table" tableValues="0.902 0.902 0.902 0.902 0.902 0.902 0.902 0.902 0.902 0.908 0.914 0.920 0.905 0.884 0.863 0.779 0.695 0.605 0.490 0.376 0.301 0.235 0.176 0.127 0.078 0.062 0.046 0.049 0.065 0.080 0.086 0.092 0.098 0.092 0.086 0.080 0.067 0.053 0.039 0.039 0.039"/></feComponentTransfer>
<feGaussianBlur stdDeviation="0.4"/>
</filter>
<mask id="cC0" maskUnits="userSpaceOnUse" x="395.8" y="33.1" width="46.9" height="53.0"><path d="M402.8,44.4 C403.6,42.9 405.0,41.5 406.6,40.6 C408.2,39.7 410.7,39.1 412.7,39.1 C414.7,39.1 416.9,40.1 418.8,40.6 C420.7,41.1 422.7,42.5 424.1,42.4 C425.5,42.3 426.3,40.8 427.2,40.3 C428.1,39.8 428.3,38.8 429.4,39.1 C430.5,39.4 432.8,40.7 434.0,42.1 C435.2,43.5 436.3,45.4 436.7,47.4 C437.1,49.4 437.0,51.6 436.3,54.3 C435.6,57.0 433.9,60.8 432.5,63.4 C431.1,66.0 429.5,68.0 427.9,70.2 C426.2,72.4 424.4,74.7 422.6,76.3 C420.8,77.9 419.2,79.5 417.3,80.1 C415.4,80.7 412.7,80.8 411.2,80.1 C409.7,79.3 409.1,77.9 408.2,75.6 C407.3,73.3 406.8,69.5 405.9,66.4 C405.0,63.4 403.5,60.1 402.8,57.3 C402.1,54.5 401.8,51.9 401.8,49.7 C401.8,47.6 402.0,45.9 402.8,44.4Z" fill="#fff" filter="url(#rough)"/></mask>
<linearGradient id="gC0" x1="0" y1="0" x2="0" y2="1"><stop offset="0.1" stop-color="rgb(156,156,156)"/><stop offset="0.9" stop-color="rgb(171,171,171)"/></linearGradient>
<filter id="tC1" x="0" y="0" width="1" height="1" color-interpolation-filters="sRGB">
<feTurbulence type="fractalNoise" baseFrequency="0.65" numOctaves="2" seed="12"/>
<feColorMatrix type="matrix" values="1 0 0 0 0 1 0 0 0 0 1 0 0 0 0 0 0 0 0 1"/>
<feComposite in2="SourceGraphic" operator="arithmetic" k1="0" k2="0.678" k3="1" k4="-0.339"/>
<feComponentTransfer><feFuncR type="table" tableValues="0.000 0.000 0.000 0.000 0.000 0.000 0.000 0.000 0.000 0.000 0.000 0.000 0.011 0.025 0.039 0.095 0.151 0.216 0.314 0.412 0.497 0.578 0.657 0.730 0.804 0.853 0.902 0.926 0.935 0.939 0.929 0.920 0.910 0.877 0.844 0.811 0.765 0.716 0.667 0.667 0.667"/><feFuncG type="table" tableValues="0.314 0.314 0.314 0.314 0.314 0.314 0.314 0.314 0.314 0.400 0.485 0.571 0.644 0.714 0.784 0.805 0.826 0.847 0.869 0.890 0.899 0.906 0.908 0.905 0.902 0.877 0.853 0.804 0.739 0.676 0.627 0.578 0.529 0.474 0.419 0.364 0.308 0.252 0.196 0.196 0.196"/><feFuncB type="table" tableValues="0.902 0.902 0.902 0.902 0.902 0.902 0.902 0.902 0.902 0.908 0.914 0.920 0.905 0.884 0.863 0.779 0.695 0.605 0.490 0.376 0.301 0.235 0.176 0.127 0.078 0.062 0.046 0.049 0.065 0.080 0.086 0.092 0.098 0.092 0.086 0.080 0.067 0.053 0.039 0.039 0.039"/></feComponentTransfer>
<feGaussianBlur stdDeviation="0.4"/>
</filter>
<mask id="cC1" maskUnits="userSpaceOnUse" x="396.8" y="95.4" width="46.2" height="52.7"><path d="M403.6,107.2 C404.4,105.3 405.9,104.4 407.4,103.4 C408.9,102.4 410.8,101.4 412.7,101.4 C414.6,101.4 416.8,102.6 418.8,103.4 C420.8,104.2 423.4,106.5 424.9,106.4 C426.4,106.3 426.8,103.4 427.9,102.6 C429.0,101.8 430.4,101.3 431.7,101.8 C433.0,102.3 434.9,103.9 435.8,105.6 C436.7,107.2 437.2,109.4 437.0,111.7 C436.8,114.0 435.9,116.6 434.8,119.3 C433.7,122.0 431.7,125.2 430.2,127.7 C428.7,130.2 427.2,132.5 425.6,134.5 C424.0,136.5 422.2,138.5 420.3,139.8 C418.4,141.1 415.9,142.1 414.2,142.1 C412.5,142.1 411.5,141.3 410.4,139.8 C409.3,138.3 408.3,135.7 407.4,133.0 C406.5,130.3 405.9,126.9 405.1,123.9 C404.3,120.9 403.1,117.6 402.8,114.8 C402.6,112.0 402.8,109.1 403.6,107.2Z" fill="#fff" filter="url(#rough)"/></mask>
<linearGradient id="gC1" x1="0" y1="0" x2="0" y2="1"><stop offset="0.1" stop-color="rgb(120,120,120)"/><stop offset="0.9" stop-color="rgb(156,156,156)"/></linearGradient>
<filter id="tC2" x="0" y="0" width="1" height="1" color-interpolation-filters="sRGB">
<feTurbulence type="fractalNoise" baseFrequency="0.65" numOctaves="2" seed="13"/>
<feColorMatrix type="matrix" values="1 0 0 0 0 1 0 0 0 0 1 0 0 0 0 0 0 0 0 1"/>
<feComposite in2="SourceGraphic" operator="arithmetic" k1="0" k2="0.678" k3="1" k4="-0.339"/>
<feComponentTransfer><feFuncR type="table" tableValues="0.000 0.000 0.000 0.000 0.000 0.000 0.000 0.000 0.000 0.000 0.000 0.000 0.011 0.025 0.039 0.095 0.151 0.216 0.314 0.412 0.497 0.578 0.657 0.730 0.804 0.853 0.902 0.926 0.935 0.939 0.929 0.920 0.910 0.877 0.844 0.811 0.765 0.716 0.667 0.667 0.667"/><feFuncG type="table" tableValues="0.314 0.314 0.314 0.314 0.314 0.314 0.314 0.314 0.314 0.400 0.485 0.571 0.644 0.714 0.784 0.805 0.826 0.847 0.869 0.890 0.899 0.906 0.908 0.905 0.902 0.877 0.853 0.804 0.739 0.676 0.627 0.578 0.529 0.474 0.419 0.364 0.308 0.252 0.196 0.196 0.196"/><feFuncB type="table" tableValues="0.902 0.902 0.902 0.902 0.902 0.902 0.902 0.902 0.902 0.908 0.914 0.920 0.905 0.884 0.863 0.779 0.695 0.605 0.490 0.376 0.301 0.235 0.176 0.127 0.078 0.062 0.046 0.049 0.065 0.080 0.086 0.092 0.098 0.092 0.086 0.080 0.067 0.053 0.039 0.039 0.039"/></feComponentTransfer>
<feGaussianBlur stdDeviation="0.4"/>
</filter>
<mask id="cC2" maskUnits="userSpaceOnUse" x="396.8" y="160.4" width="46.2" height="52.7"><path d="M403.6,171.4 C404.4,169.4 405.8,168.7 407.4,167.9 C409.0,167.1 411.5,166.3 413.5,166.4 C415.5,166.5 417.7,167.8 419.6,168.4 C421.5,169.1 423.5,170.4 424.9,170.3 C426.3,170.2 426.6,168.1 427.9,167.6 C429.2,167.1 431.1,166.7 432.5,167.3 C433.9,167.9 435.6,169.8 436.3,171.4 C437.1,173.0 437.2,174.5 437.0,176.7 C436.8,178.8 436.2,181.8 435.2,184.3 C434.2,186.8 432.5,189.5 431.0,191.9 C429.5,194.3 428.0,196.7 426.4,198.8 C424.8,200.9 423.0,203.0 421.1,204.4 C419.2,205.8 416.8,207.0 415.0,207.1 C413.2,207.2 411.7,206.3 410.4,204.8 C409.1,203.3 408.3,200.7 407.4,198.0 C406.5,195.3 405.9,191.9 405.1,188.9 C404.3,185.9 403.1,182.7 402.8,179.8 C402.6,176.9 402.8,173.4 403.6,171.4Z" fill="#fff" filter="url(#rough)"/></mask>
<linearGradient id="gC2" x1="0" y1="0" x2="0" y2="1"><stop offset="0.1" stop-color="rgb(112,112,112)"/><stop offset="0.9" stop-color="rgb(153,153,153)"/></linearGradient>
<filter id="tC3" x="0" y="0" width="1" height="1" color-interpolation-filters="sRGB">
<feTurbulence type="fractalNoise" baseFrequency="0.65" numOctaves="2" seed="14"/>
<feColorMatrix type="matrix" values="1 0 0 0 0 1 0 0 0 0 1 0 0 0 0 0 0 0 0 1"/>
<feComposite in2="SourceGraphic" operator="arithmetic" k1="0" k2="0.678" k3="1" k4="-0.339"/>
<feComponentTransfer><feFuncR type="table" tableValues="0.000 0.000 0.000 0.000 0.000 0.000 0.000 0.000 0.000 0.000 0.000 0.000 0.011 0.025 0.039 0.095 0.151 0.216 0.314 0.412 0.497 0.578 0.657 0.730 0.804 0.853 0.902 0.926 0.935 0.939 0.929 0.920 0.910 0.877 0.844 0.811 0.765 0.716 0.667 0.667 0.667"/><feFuncG type="table" tableValues="0.314 0.314 0.314 0.314 0.314 0.314 0.314 0.314 0.314 0.400 0.485 0.571 0.644 0.714 0.784 0.805 0.826 0.847 0.869 0.890 0.899 0.906 0.908 0.905 0.902 0.877 0.853 0.804 0.739 0.676 0.627 0.578 0.529 0.474 0.419 0.364 0.308 0.252 0.196 0.196 0.196"/><feFuncB type="table" tableValues="0.902 0.902 0.902 0.902 0.902 0.902 0.902 0.902 0.902 0.908 0.914 0.920 0.905 0.884 0.863 0.779 0.695 0.605 0.490 0.376 0.301 0.235 0.176 0.127 0.078 0.062 0.046 0.049 0.065 0.080 0.086 0.092 0.098 0.092 0.086 0.080 0.067 0.053 0.039 0.039 0.039"/></feComponentTransfer>
<feGaussianBlur stdDeviation="0.4"/>
</filter>
<mask id="cC3" maskUnits="userSpaceOnUse" x="396.4" y="220.4" width="45.4" height="52.7"><path d="M403.3,230.6 C404.0,228.8 405.0,228.0 406.6,227.3 C408.2,226.6 410.7,226.2 412.7,226.4 C414.7,226.6 417.0,227.7 418.8,228.4 C420.6,229.2 422.1,231.0 423.4,230.9 C424.7,230.8 425.1,228.3 426.4,227.6 C427.7,226.8 429.6,226.0 431.0,226.4 C432.4,226.8 434.0,228.3 434.8,229.9 C435.6,231.5 436.1,233.7 435.8,236.0 C435.5,238.3 434.3,241.1 433.2,243.6 C432.1,246.1 430.8,248.8 429.4,251.2 C428.0,253.6 426.4,256.0 424.9,258.0 C423.4,260.0 422.1,261.8 420.3,263.3 C418.5,264.8 416.1,266.9 414.2,267.1 C412.3,267.4 410.3,266.6 408.9,264.8 C407.5,263.0 406.6,259.4 405.9,256.5 C405.1,253.6 405.0,250.5 404.4,247.4 C403.8,244.3 402.6,241.0 402.4,238.2 C402.2,235.4 402.6,232.4 403.3,230.6Z" fill="#fff" filter="url(#rough)"/></mask>
<linearGradient id="gC3" x1="0" y1="0" x2="0" y2="1"><stop offset="0.1" stop-color="rgb(115,115,115)"/><stop offset="0.9" stop-color="rgb(148,148,148)"/></linearGradient>
<filter id="tC4" x="0" y="0" width="1" height="1" color-interpolation-filters="sRGB">
<feTurbulence type="fractalNoise" baseFrequency="0.65" numOctaves="2" seed="15"/>
<feColorMatrix type="matrix" values="1 0 0 0 0 1 0 0 0 0 1 0 0 0 0 0 0 0 0 1"/>
<feComposite in2="SourceGraphic" operator="arithmetic" k1="0" k2="0.678" k3="1" k4="-0.339"/>
<feComponentTransfer><feFuncR type="table" tableValues="0.000 0.000 0.000 0.000 0.000 0.000 0.000 0.000 0.000 0.000 0.000 0.000 0.011 0.025 0.039 0.095 0.151 0.216 0.314 0.412 0.497 0.578 0.657 0.730 0.804 0.853 0.902 0.926 0.935 0.939 0.929 0.920 0.910 0.877 0.844 0.811 0.765 0.716 0.667 0.667 0.667"/><feFuncG type="table" tableValues="0.314 0.314 0.314 0.314 0.314 0.314 0.314 0.314 0.314 0.400 0.485 0.571 0.644 0.714 0.784 0.805 0.826 0.847 0.869 0.890 0.899 0.906 0.908 0.905 0.902 0.877 0.853 0.804 0.739 0.676 0.627 0.578 0.529 0.474 0.419 0.364 0.308 0.252 0.196 0.196 0.196"/><feFuncB type="table" tableValues="0.902 0.902 0.902 0.902 0.902 0.902 0.902 0.902 0.902 0.908 0.914 0.920 0.905 0.884 0.863 0.779 0.695 0.605 0.490 0.376 0.301 0.235 0.176 0.127 0.078 0.062 0.046 0.049 0.065 0.080 0.086 0.092 0.098 0.092 0.086 0.080 0.067 0.053 0.039 0.039 0.039"/></feComponentTransfer>
<feGaussianBlur stdDeviation="0.4"/>
</filter>
<mask id="cC4" maskUnits="userSpaceOnUse" x="397.3" y="282.8" width="46.5" height="55.6"><path d="M404.4,293.6 C405.2,291.4 406.6,290.6 408.2,289.8 C409.8,289.0 412.2,288.5 414.2,288.8 C416.2,289.1 418.5,290.5 420.3,291.4 C422.1,292.3 423.5,294.2 424.9,294.4 C426.3,294.6 427.2,292.8 428.7,292.4 C430.2,292.0 432.5,291.4 434.0,292.1 C435.5,292.8 437.2,294.8 437.8,296.7 C438.4,298.6 438.3,301.1 437.8,303.5 C437.3,305.9 436.1,308.6 434.8,311.1 C433.5,313.6 431.9,316.3 430.2,318.7 C428.5,321.1 426.5,323.7 424.9,325.6 C423.2,327.5 422.1,329.0 420.3,330.1 C418.5,331.2 416.0,332.5 414.2,332.4 C412.4,332.3 411.0,331.3 409.7,329.4 C408.4,327.5 407.4,323.9 406.6,321.0 C405.8,318.1 405.4,314.9 404.8,311.9 C404.2,308.9 403.4,305.9 403.3,302.8 C403.2,299.8 403.6,295.8 404.4,293.6Z" fill="#fff" filter="url(#rough)"/></mask>
<linearGradient id="gC4" x1="0" y1="0" x2="0" y2="1"><stop offset="0.1" stop-color="rgb(112,112,112)"/><stop offset="0.9" stop-color="rgb(145,145,145)"/></linearGradient>
<filter id="rb" x="-0.2" y="-0.2" width="1.4" height="1.4"><feGaussianBlur stdDeviation="1"/></filter>
<filter id="rough" x="-0.1" y="-0.1" width="1.2" height="1.2"><feTurbulence type="fractalNoise" baseFrequency="0.35" numOctaves="1" seed="7" result="t"/><feDisplacementMap in="SourceGraphic" in2="t" scale="1.6" xChannelSelector="R" yChannelSelector="G"/></filter>
</defs>
<rect x="9" y="7" width="169" height="345" fill="#000"/>
<rect x="186" y="7" width="173" height="345" fill="#000"/>
<rect x="368" y="7" width="170.5" height="345" fill="#000"/>
<g mask="url(#cA0)"><g filter="url(#tA0)"><rect x="48.4" y="32.8" width="39.9" height="51.1" fill="url(#gA0)"/></g></g>
<g mask="url(#cA1)"><g filter="url(#tA1)"><rect x="49.6" y="98.4" width="39.7" height="48.5" fill="url(#gA1)"/></g></g>
<g mask="url(#cA2)"><g filter="url(#tA2)"><rect x="49.3" y="161.4" width="40.0" height="47.9" fill="url(#gA2)"/></g></g>
<g mask="url(#cA3)"><g filter="url(#tA3)"><rect x="48.8" y="225.1" width="39.0" height="47.8" fill="url(#gA3)"/><path d="M53.4,231.9 C54.4,230.6 56.3,229.2 57.9,228.8 C59.5,228.4 61.8,229.1 63.2,229.3 C64.6,229.5 65.2,230.1 66.3,229.9 C67.4,229.7 68.6,228.3 70.1,228.1 C71.6,227.8 73.5,227.8 75.4,228.4 C77.3,229.0 79.9,230.4 81.5,231.9 C83.1,233.4 84.2,235.3 84.8,237.2 C85.3,239.1 85.1,240.8 84.8,243.3 C84.5,245.8 83.5,249.5 82.7,252.4 C81.9,255.3 80.8,258.4 79.7,260.8 C78.6,263.2 77.7,265.3 76.2,266.8 C74.7,268.3 72.7,269.4 70.8,269.9 C68.9,270.4 66.6,270.4 64.8,269.9 C63.0,269.4 61.5,268.4 60.2,266.8 C58.9,265.2 58.2,262.6 57.2,260.0 C56.2,257.4 55.2,253.7 54.4,250.9 C53.6,248.1 52.7,245.7 52.3,243.3 C51.9,240.9 51.6,238.3 51.8,236.4 C52.0,234.5 52.4,233.2 53.4,231.9Z" fill="none" stroke="rgb(158,158,158)" stroke-width="5" stroke-opacity="0.3" filter="url(#rb)"/></g></g>
<g mask="url(#cA4)"><g filter="url(#tA4)"><rect x="48.1" y="284.6" width="39.7" height="50.3" fill="url(#gA4)"/><path d="M52.6,294.4 C53.5,293.2 55.2,291.5 56.4,290.9 C57.6,290.2 58.9,290.5 59.8,290.5 C60.7,290.5 61.1,290.7 61.6,291.0 C62.1,291.3 62.3,292.6 62.6,292.4 C62.9,292.2 63.1,290.8 63.5,290.0 C63.9,289.2 64.4,287.8 64.9,287.6 C65.4,287.4 65.8,288.5 66.3,289.0 C66.8,289.5 66.5,290.5 67.8,290.7 C69.1,290.9 71.9,289.9 73.9,290.3 C75.9,290.7 78.3,291.7 80.0,292.9 C81.7,294.1 83.0,295.8 83.8,297.4 C84.6,299.0 84.9,300.4 84.8,302.8 C84.7,305.2 83.9,308.9 83.0,311.9 C82.1,314.9 80.5,318.4 79.2,321.0 C77.9,323.6 77.1,326.0 75.4,327.8 C73.8,329.6 71.3,331.2 69.3,331.9 C67.3,332.6 64.9,332.4 63.2,331.9 C61.6,331.3 60.5,330.6 59.4,328.6 C58.3,326.7 57.4,323.2 56.4,320.2 C55.4,317.2 54.2,313.3 53.4,310.4 C52.6,307.5 51.8,304.8 51.4,302.8 C51.0,300.8 50.9,299.6 51.1,298.2 C51.3,296.8 51.7,295.6 52.6,294.4Z" fill="none" stroke="rgb(153,153,153)" stroke-width="5" stroke-opacity="0.3" filter="url(#rb)"/></g></g>
<g mask="url(#cB0)"><g filter="url(#tB0)"><rect x="223.4" y="38.8" width="38.6" height="44.8" fill="url(#gB0)"/></g></g>
<g mask="url(#cB1)"><g filter="url(#tB1)"><rect x="222.3" y="100.1" width="39.0" height="44.7" fill="url(#gB1)"/></g></g>
<g mask="url(#cB2)"><g filter="url(#tB2)"><rect x="222.3" y="165.4" width="40.0" height="46.2" fill="url(#gB2)"/></g></g>
<g mask="url(#cB3)"><g filter="url(#tB3)"><rect x="223.4" y="229.3" width="38.9" height="45.9" fill="url(#gB3)"/></g></g>
<g mask="url(#cB4)"><g filter="url(#tB4)"><rect x="221.4" y="290.9" width="39.9" height="45.3" fill="url(#gB4)"/><path d="M225.6,298.2 C226.3,296.4 227.3,295.9 228.6,295.2 C229.9,294.5 231.4,293.9 233.2,293.9 C235.0,293.9 237.7,294.5 239.3,295.2 C241.0,295.9 241.6,297.9 243.1,298.2 C244.6,298.4 246.6,296.7 248.4,296.7 C250.2,296.7 252.2,297.3 253.7,298.2 C255.2,299.1 256.7,300.5 257.5,302.0 C258.3,303.5 258.6,305.3 258.3,307.3 C258.1,309.3 257.0,312.1 256.0,314.2 C255.0,316.3 253.6,318.0 252.2,320.2 C250.8,322.4 249.2,325.1 247.6,327.1 C245.9,329.1 244.2,331.4 242.3,332.4 C240.4,333.4 238.1,333.6 236.2,333.2 C234.3,332.8 232.3,331.9 230.9,330.1 C229.5,328.3 228.8,325.3 227.9,322.5 C227.0,319.7 225.9,316.2 225.3,313.4 C224.7,310.6 224.4,308.3 224.4,305.8 C224.4,303.3 224.9,300.0 225.6,298.2Z" fill="none" stroke="rgb(148,148,148)" stroke-width="5" stroke-opacity="0.3" filter="url(#rb)"/></g></g>
<g mask="url(#cC0)"><g filter="url(#tC0)"><rect x="398.8" y="36.1" width="40.9" height="47.0" fill="url(#gC0)"/><path d="M402.8,44.4 C403.6,42.9 405.0,41.5 406.6,40.6 C408.2,39.7 410.7,39.1 412.7,39.1 C414.7,39.1 416.9,40.1 418.8,40.6 C420.7,41.1 422.7,42.5 424.1,42.4 C425.5,42.3 426.3,40.8 427.2,40.3 C428.1,39.8 428.3,38.8 429.4,39.1 C430.5,39.4 432.8,40.7 434.0,42.1 C435.2,43.5 436.3,45.4 436.7,47.4 C437.1,49.4 437.0,51.6 436.3,54.3 C435.6,57.0 433.9,60.8 432.5,63.4 C431.1,66.0 429.5,68.0 427.9,70.2 C426.2,72.4 424.4,74.7 422.6,76.3 C420.8,77.9 419.2,79.5 417.3,80.1 C415.4,80.7 412.7,80.8 411.2,80.1 C409.7,79.3 409.1,77.9 408.2,75.6 C407.3,73.3 406.8,69.5 405.9,66.4 C405.0,63.4 403.5,60.1 402.8,57.3 C402.1,54.5 401.8,51.9 401.8,49.7 C401.8,47.6 402.0,45.9 402.8,44.4Z" fill="none" stroke="rgb(184,184,184)" stroke-width="5" stroke-opacity="0.5" filter="url(#rb)"/></g></g>
<g mask="url(#cC1)"><g filter="url(#tC1)"><rect x="399.8" y="98.4" width="40.2" height="46.7" fill="url(#gC1)"/><path d="M403.6,107.2 C404.4,105.3 405.9,104.4 407.4,103.4 C408.9,102.4 410.8,101.4 412.7,101.4 C414.6,101.4 416.8,102.6 418.8,103.4 C420.8,104.2 423.4,106.5 424.9,106.4 C426.4,106.3 426.8,103.4 427.9,102.6 C429.0,101.8 430.4,101.3 431.7,101.8 C433.0,102.3 434.9,103.9 435.8,105.6 C436.7,107.2 437.2,109.4 437.0,111.7 C436.8,114.0 435.9,116.6 434.8,119.3 C433.7,122.0 431.7,125.2 430.2,127.7 C428.7,130.2 427.2,132.5 425.6,134.5 C424.0,136.5 422.2,138.5 420.3,139.8 C418.4,141.1 415.9,142.1 414.2,142.1 C412.5,142.1 411.5,141.3 410.4,139.8 C409.3,138.3 408.3,135.7 407.4,133.0 C406.5,130.3 405.9,126.9 405.1,123.9 C404.3,120.9 403.1,117.6 402.8,114.8 C402.6,112.0 402.8,109.1 403.6,107.2Z" fill="none" stroke="rgb(163,163,163)" stroke-width="5" stroke-opacity="0.85" filter="url(#rb)"/></g></g>
<g mask="url(#cC2)"><g filter="url(#tC2)"><rect x="399.8" y="163.4" width="40.2" height="46.7" fill="url(#gC2)"/><path d="M403.6,171.4 C404.4,169.4 405.8,168.7 407.4,167.9 C409.0,167.1 411.5,166.3 413.5,166.4 C415.5,166.5 417.7,167.8 419.6,168.4 C421.5,169.1 423.5,170.4 424.9,170.3 C426.3,170.2 426.6,168.1 427.9,167.6 C429.2,167.1 431.1,166.7 432.5,167.3 C433.9,167.9 435.6,169.8 436.3,171.4 C437.1,173.0 437.2,174.5 437.0,176.7 C436.8,178.8 436.2,181.8 435.2,184.3 C434.2,186.8 432.5,189.5 431.0,191.9 C429.5,194.3 428.0,196.7 426.4,198.8 C424.8,200.9 423.0,203.0 421.1,204.4 C419.2,205.8 416.8,207.0 415.0,207.1 C413.2,207.2 411.7,206.3 410.4,204.8 C409.1,203.3 408.3,200.7 407.4,198.0 C406.5,195.3 405.9,191.9 405.1,188.9 C404.3,185.9 403.1,182.7 402.8,179.8 C402.6,176.9 402.8,173.4 403.6,171.4Z" fill="none" stroke="rgb(161,161,161)" stroke-width="5" stroke-opacity="0.85" filter="url(#rb)"/></g></g>
<g mask="url(#cC3)"><g filter="url(#tC3)"><rect x="399.4" y="223.4" width="39.4" height="46.7" fill="url(#gC3)"/><path d="M403.3,230.6 C404.0,228.8 405.0,228.0 406.6,227.3 C408.2,226.6 410.7,226.2 412.7,226.4 C414.7,226.6 417.0,227.7 418.8,228.4 C420.6,229.2 422.1,231.0 423.4,230.9 C424.7,230.8 425.1,228.3 426.4,227.6 C427.7,226.8 429.6,226.0 431.0,226.4 C432.4,226.8 434.0,228.3 434.8,229.9 C435.6,231.5 436.1,233.7 435.8,236.0 C435.5,238.3 434.3,241.1 433.2,243.6 C432.1,246.1 430.8,248.8 429.4,251.2 C428.0,253.6 426.4,256.0 424.9,258.0 C423.4,260.0 422.1,261.8 420.3,263.3 C418.5,264.8 416.1,266.9 414.2,267.1 C412.3,267.4 410.3,266.6 408.9,264.8 C407.5,263.0 406.6,259.4 405.9,256.5 C405.1,253.6 405.0,250.5 404.4,247.4 C403.8,244.3 402.6,241.0 402.4,238.2 C402.2,235.4 402.6,232.4 403.3,230.6Z" fill="none" stroke="rgb(158,158,158)" stroke-width="5" stroke-opacity="0.85" filter="url(#rb)"/></g></g>
<g mask="url(#cC4)"><g filter="url(#tC4)"><rect x="400.3" y="285.8" width="40.5" height="49.6" fill="url(#gC4)"/><path d="M404.4,293.6 C405.2,291.4 406.6,290.6 408.2,289.8 C409.8,289.0 412.2,288.5 414.2,288.8 C416.2,289.1 418.5,290.5 420.3,291.4 C422.1,292.3 423.5,294.2 424.9,294.4 C426.3,294.6 427.2,292.8 428.7,292.4 C430.2,292.0 432.5,291.4 434.0,292.1 C435.5,292.8 437.2,294.8 437.8,296.7 C438.4,298.6 438.3,301.1 437.8,303.5 C437.3,305.9 436.1,308.6 434.8,311.1 C433.5,313.6 431.9,316.3 430.2,318.7 C428.5,321.1 426.5,323.7 424.9,325.6 C423.2,327.5 422.1,329.0 420.3,330.1 C418.5,331.2 416.0,332.5 414.2,332.4 C412.4,332.3 411.0,331.3 409.7,329.4 C408.4,327.5 407.4,323.9 406.6,321.0 C405.8,318.1 405.4,314.9 404.8,311.9 C404.2,308.9 403.4,305.9 403.3,302.8 C403.2,299.8 403.6,295.8 404.4,293.6Z" fill="none" stroke="rgb(153,153,153)" stroke-width="5" stroke-opacity="0.8" filter="url(#rb)"/></g></g>
<rect x="122.7" y="51" width="12.6" height="249" fill="url(#jet)"/>
<rect x="122.7" y="63.7" width="3" height="1" fill="#000" opacity="0.4"/>
<rect x="132.3" y="63.7" width="3" height="1" fill="#000" opacity="0.4"/>
<text transform="translate(140.90,66.95) scale(1.01,1.1)" font-size="13.4">9</text>
<rect x="122.7" y="103.3" width="3" height="1" fill="#000" opacity="0.4"/>
<rect x="132.3" y="103.3" width="3" height="1" fill="#000" opacity="0.4"/>
<text transform="translate(140.90,108.85) scale(1.01,1.1)" font-size="13.4">8</text>
<rect x="122.7" y="142.6" width="3" height="1" fill="#000" opacity="0.4"/>
<rect x="132.3" y="142.6" width="3" height="1" fill="#000" opacity="0.4"/>
<text transform="translate(140.90,146.75) scale(1.01,1.1)" font-size="13.4">7</text>
<rect x="122.7" y="181.8" width="3" height="1" fill="#000" opacity="0.4"/>
<rect x="132.3" y="181.8" width="3" height="1" fill="#000" opacity="0.4"/>
<text transform="translate(140.90,187.55) scale(1.01,1.1)" font-size="13.4">6</text>
<rect x="122.7" y="221.1" width="3" height="1" fill="#000" opacity="0.4"/>
<rect x="132.3" y="221.1" width="3" height="1" fill="#000" opacity="0.4"/>
<text transform="translate(140.90,225.25) scale(1.01,1.1)" font-size="13.4">5</text>
<rect x="122.7" y="260.7" width="3" height="1" fill="#000" opacity="0.4"/>
<rect x="132.3" y="260.7" width="3" height="1" fill="#000" opacity="0.4"/>
<text transform="translate(140.90,262.95) scale(1.01,1.1)" font-size="13.4">4</text>
<text transform="translate(140.90,304.25) scale(1.01,1.1)" font-size="13.4">3</text>
<rect x="298.7" y="51" width="12.6" height="249" fill="url(#jet)"/>
<rect x="298.7" y="63.7" width="3" height="1" fill="#000" opacity="0.4"/>
<rect x="308.3" y="63.7" width="3" height="1" fill="#000" opacity="0.4"/>
<text transform="translate(316.60,66.95) scale(1.01,1.1)" font-size="13.4">4.4</text>
<rect x="298.7" y="103.3" width="3" height="1" fill="#000" opacity="0.4"/>
<rect x="308.3" y="103.3" width="3" height="1" fill="#000" opacity="0.4"/>
<text transform="translate(316.60,108.85) scale(1.01,1.1)" font-size="13.4">4.0</text>
<rect x="298.7" y="142.6" width="3" height="1" fill="#000" opacity="0.4"/>
<rect x="308.3" y="142.6" width="3" height="1" fill="#000" opacity="0.4"/>
<text transform="translate(316.60,146.75) scale(1.01,1.1)" font-size="13.4">3.6</text>
<rect x="298.7" y="181.8" width="3" height="1" fill="#000" opacity="0.4"/>
<rect x="308.3" y="181.8" width="3" height="1" fill="#000" opacity="0.4"/>
<text transform="translate(316.60,187.55) scale(1.01,1.1)" font-size="13.4">3.2</text>
<rect x="298.7" y="221.1" width="3" height="1" fill="#000" opacity="0.4"/>
<rect x="308.3" y="221.1" width="3" height="1" fill="#000" opacity="0.4"/>
<text transform="translate(316.60,225.25) scale(1.01,1.1)" font-size="13.4">2.8</text>
<rect x="298.7" y="260.7" width="3" height="1" fill="#000" opacity="0.4"/>
<rect x="308.3" y="260.7" width="3" height="1" fill="#000" opacity="0.4"/>
<text transform="translate(316.60,262.95) scale(1.01,1.1)" font-size="13.4">2.4</text>
<text transform="translate(316.60,304.25) scale(1.01,1.1)" font-size="13.4">2.0</text>
<rect x="480.7" y="51" width="12.6" height="249" fill="url(#jet)"/>
<rect x="480.7" y="63.7" width="3" height="1" fill="#000" opacity="0.4"/>
<rect x="490.3" y="63.7" width="3" height="1" fill="#000" opacity="0.4"/>
<text transform="translate(499.40,66.95) scale(1.01,1.1)" font-size="13.4">1.0</text>
<rect x="480.7" y="103.3" width="3" height="1" fill="#000" opacity="0.4"/>
<rect x="490.3" y="103.3" width="3" height="1" fill="#000" opacity="0.4"/>
<text transform="translate(499.40,108.85) scale(1.01,1.1)" font-size="13.4">0.9</text>
<rect x="480.7" y="142.6" width="3" height="1" fill="#000" opacity="0.4"/>
<rect x="490.3" y="142.6" width="3" height="1" fill="#000" opacity="0.4"/>
<text transform="translate(499.40,146.75) scale(1.01,1.1)" font-size="13.4">0.8</text>
<rect x="480.7" y="181.8" width="3" height="1" fill="#000" opacity="0.4"/>
<rect x="490.3" y="181.8" width="3" height="1" fill="#000" opacity="0.4"/>
<text transform="translate(499.40,187.55) scale(1.01,1.1)" font-size="13.4">0.7</text>
<rect x="480.7" y="221.1" width="3" height="1" fill="#000" opacity="0.4"/>
<rect x="490.3" y="221.1" width="3" height="1" fill="#000" opacity="0.4"/>
<text transform="translate(499.40,225.25) scale(1.01,1.1)" font-size="13.4">0.6</text>
<rect x="480.7" y="260.7" width="3" height="1" fill="#000" opacity="0.4"/>
<rect x="490.3" y="260.7" width="3" height="1" fill="#000" opacity="0.4"/>
<text transform="translate(499.40,262.95) scale(1.01,1.1)" font-size="13.4">0.5</text>
<text transform="translate(499.40,304.25) scale(1.01,1.1)" font-size="13.4">0.4</text>
<text transform="translate(26.60,30.90) scale(0.92,1.08)" font-size="17">A</text>
<text word-spacing="0" transform="translate(24.70,56.80) scale(1.01,1.1)" font-size="13.4">0 h</text>
<text word-spacing="0" transform="translate(24.70,122.30) scale(1.01,1.1)" font-size="13.4">10 h</text>
<text word-spacing="0" transform="translate(24.70,185.20) scale(1.01,1.1)" font-size="13.4">20 h</text>
<text word-spacing="0" transform="translate(24.70,247.50) scale(1.01,1.1)" font-size="13.4">30 h</text>
<text word-spacing="0" transform="translate(24.70,310.30) scale(1.01,1.1)" font-size="13.4">40 h</text>
<text transform="translate(200.20,30.50) scale(1.0,1.08)" font-size="17">B</text>
<text word-spacing="0" transform="translate(195.50,56.80) scale(1.01,1.1)" font-size="13.4">0 h</text>
<text word-spacing="0" transform="translate(195.50,122.30) scale(1.01,1.1)" font-size="13.4">10 h</text>
<text word-spacing="0" transform="translate(195.50,185.20) scale(1.01,1.1)" font-size="13.4">20 h</text>
<text word-spacing="0" transform="translate(195.50,247.50) scale(1.01,1.1)" font-size="13.4">30 h</text>
<text word-spacing="0" transform="translate(195.50,310.30) scale(1.01,1.1)" font-size="13.4">40 h</text>
<text transform="translate(378.90,30.80) scale(1.0,1.08)" font-size="17">C</text>
<text word-spacing="0" transform="translate(375.30,56.80) scale(1.01,1.1)" font-size="13.4">0 h</text>
<text word-spacing="0" transform="translate(375.30,122.30) scale(1.01,1.1)" font-size="13.4">10 h</text>
<text word-spacing="0" transform="translate(375.30,185.20) scale(1.01,1.1)" font-size="13.4">20 h</text>
<text word-spacing="0" transform="translate(375.30,247.50) scale(1.01,1.1)" font-size="13.4">30 h</text>
<text word-spacing="0" transform="translate(375.30,310.30) scale(1.01,1.1)" font-size="13.4">40 h</text>
<text transform="translate(108.30,35.90) scale(0.985,1.0)" font-size="13.6">SSC (%)</text>
<text transform="translate(302.10,35.80) scale(1.0,1.0)" font-size="13.0">pH</text>
<text transform="translate(461.20,35.30) scale(0.985,1.05)" font-size="13.6">VC (g kg<tspan font-size="8" dy="-4.6">-1</tspan><tspan dy="4.6" dx="-0.3">)</tspan></text>
</svg></body></html>
